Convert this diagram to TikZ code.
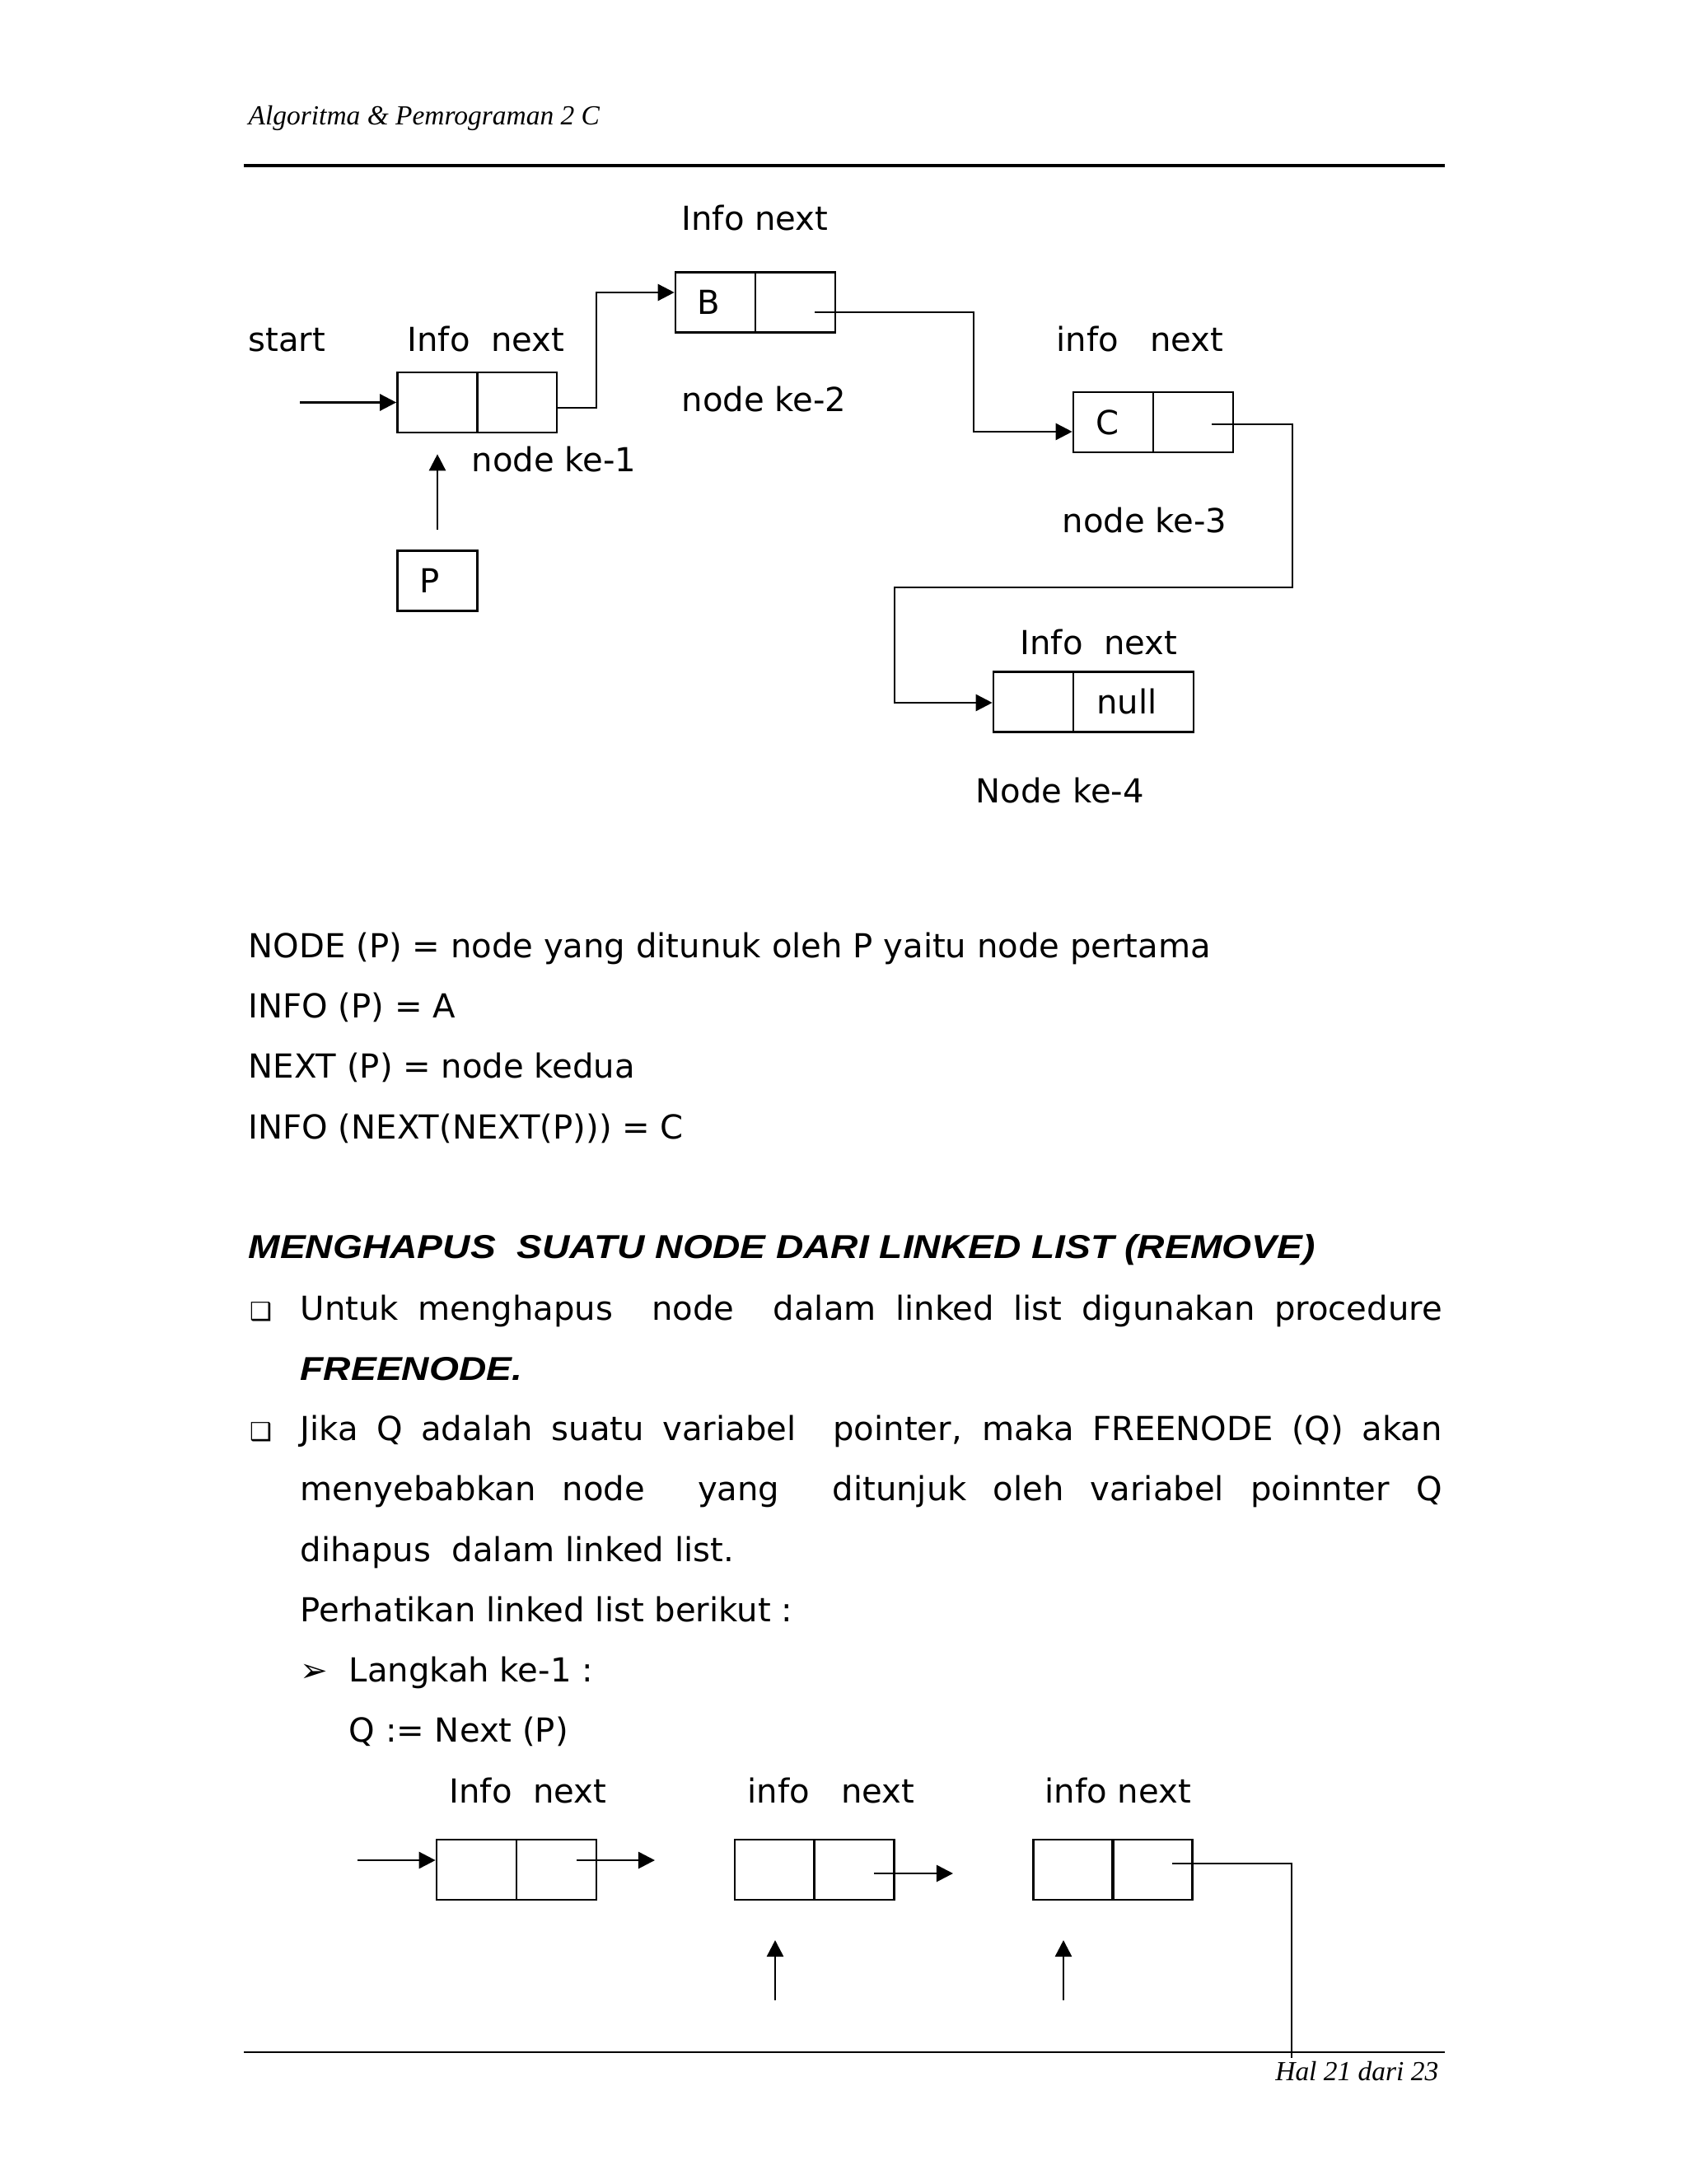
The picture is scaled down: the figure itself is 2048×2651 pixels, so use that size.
\documentclass[tikz,border=0pt]{standalone}
\usepackage{fontspec}
\usepackage{graphicx}
\setmainfont{DejaVu Sans}
\newfontfamily\timesf{Liberation Serif}
\newfontfamily\arialf{Liberation Sans}
\usetikzlibrary{arrows.meta}
\newdimen\pxu \pxu=0.29883pt
\begin{document}
\begin{tikzpicture}[x=0.29883pt,y=-0.29883pt,
  cell/.style={draw, line width=0.8pt, minimum width=97\pxu, minimum height=73\pxu, inner sep=0pt, font=\fontsize{12}{14}\selectfont},
  txt/.style={anchor=base west, inner sep=0pt, font=\fontsize{12}{14}\selectfont},
  headf/.style={anchor=base west, inner sep=0pt, font=\arialf\bfseries\itshape\fontsize{12}{14}\selectfont},
  serifit/.style={inner sep=0pt, font=\timesf\itshape\fontsize{10}{12}\selectfont},
  arr/.style={line width=0.8pt, -{Triangle[length=6pt,width=6pt]}},
  conn/.style={line width=0.8pt}]
\useasboundingbox (0,0) rectangle (2048,2651);
\fill[white] (0,0) rectangle (2048,2651);

% header and footer
\node[serifit, anchor=base west] (hd) at (301,152) {Algoritma \& Pemrograman 2 C};
\coordinate (hl1) at (296,201); \coordinate (hl2) at (1754,201);
\draw[line width=1pt] (hl1) -- (hl2);
\coordinate (fl1) at (296,2491); \coordinate (fl2) at (1754,2491);
\draw[line width=0.6pt] (fl1) -- (fl2);
\node[serifit, anchor=base east] (ft) at (1747,2525) {Hal 21 dari 23};

% ---------- diagram 1 ----------
\node[txt] (l1) at (827,280) {Info next};
\node[txt] (lstart) at (301,427) {start};
\node[txt] (l2) at (494,427) {Info\ \ next};
\node[txt] (l3) at (1282,427) {info\ \ \ next};
\node[txt] (k2) at (827,500) {node ke-2};
\node[txt] (k1) at (572,573) {node ke-1};
\node[txt] (k3) at (1289,647) {node ke-3};
\node[txt] (l4) at (1238,794) {Info\ \ next};
\node[txt] (k4) at (1184,974) {Node ke-4};

\node[cell] (n1i) at (531,488.5) {};
\node[cell] (n1n) at (627.5,488.5) {};
\node[cell] (bi) at (868.5,367) {\hspace*{-16\pxu}B};
\node[cell] (bn) at (965.5,367) {};
\node[cell] (ci) at (1351.5,512.5) {\hspace*{-14\pxu}C};
\node[cell] (cn) at (1448.5,512.5) {};
\node[cell] (di) at (1254.5,852) {};
\node[cell, minimum width=146\pxu] (dn) at (1376,852) {\hspace*{-16\pxu}null};
\node[cell] (p) at (531,705) {\hspace*{-18\pxu}P};

\coordinate (s0) at (364,488.5);
\draw[arr] (s0) -- (n1i.west);
\coordinate (j1) at (724,495);
\coordinate (j2) at (724,355);
\draw[arr] (n1n.east |- j1) -- (j1) -- (j2) -- (bi.west |- j2);
\coordinate (bs) at (989,379);
\coordinate (j3) at (1182,379);
\coordinate (j4) at (1182,524);
\draw[arr] (bs) -- (j3) -- (j4) -- (ci.west |- j4);
\coordinate (cs) at (1471,515);
\coordinate (j5) at (1569,515);
\coordinate (j6) at (1569,713);
\coordinate (j7) at (1086,713);
\coordinate (j8) at (1086,853);
\draw[arr] (cs) -- (j5) -- (j6) -- (j7) -- (j8) -- (di.west |- j8);
\draw[arr, shorten <=24\pxu, shorten >=25\pxu] (p.north) -- (n1i.south);

% ---------- text ----------
\node[txt] (t1) at (301,1162) {NODE (P) = node yang ditunuk oleh P yaitu node pertama};
\node[txt] (t2) at (301,1235) {INFO (P) = A};
\node[txt] (t3) at (301,1308) {NEXT (P) = node kedua};
\node[txt] (t4) at (301,1382) {INFO (NEXT(NEXT(P))) = C};
\node[headf] (h1) at (301,1527) {\scalebox{1.15}[1]{MENGHAPUS\ \ SUATU NODE DARI LINKED LIST (REMOVE)}};
\node[txt, font=\fontsize{9}{10}\selectfont] (b1) at (303,1602) {❑};
\node[txt] (u1) at (364,1602) {\makebox[1386\pxu][s]{Untuk menghapus\ \ node\ \ dalam linked list digunakan procedure}};
\node[headf] (u2) at (364,1675) {\scalebox{1.15}[1]{FREENODE.}};
\node[txt, font=\fontsize{9}{10}\selectfont] (b2) at (303,1748) {❑};
\node[txt] (u3) at (364,1748) {\makebox[1386\pxu][s]{Jika Q adalah suatu variabel\ \ pointer, maka FREENODE (Q) akan}};
\node[txt] (u4) at (364,1821) {\makebox[1386\pxu][s]{menyebabkan node\ \ yang\ \ ditunjuk oleh variabel poinnter Q}};
\node[txt] (u5) at (364,1895) {dihapus\ \ dalam linked list.};
\node[txt] (u6) at (364,1968) {Perhatikan linked list berikut :};
\node[txt] (ab) at (364,2041) {➢};
\node[txt] (u7) at (423,2041) {Langkah ke-1 :};
\node[txt] (u8) at (423,2114) {Q := Next (P)};

% ---------- diagram 2 ----------
\node[txt] (m1) at (545,2188) {Info\ \ next};
\node[txt] (m2) at (907,2188) {info\ \ \ next};
\node[txt] (m3) at (1268,2188) {info next};
\node[cell] (e1i) at (578.5,2269.5) {};
\node[cell] (e1n) at (675.5,2269.5) {};
\node[cell] (e2i) at (940.5,2269.5) {};
\node[cell] (e2n) at (1037,2269.5) {};
\node[cell] (e3i) at (1303,2269.5) {};
\node[cell] (e3n) at (1399,2269.5) {};

\coordinate (q0) at (434,2258);
\draw[arr] (q0) -- (e1i.west |- q0);
\coordinate (q1) at (700,2258); \coordinate (q2) at (795,2258);
\draw[arr] (q1) -- (q2);
\coordinate (q3) at (1061,2274); \coordinate (q4) at (1157,2274);
\draw[arr] (q3) -- (q4);
\coordinate (q5) at (1423,2262); \coordinate (q6) at (1568,2262); \coordinate (q7) at (1568,2498);
\draw[conn] (q5) -- (q6) -- (q7);
\coordinate (r1) at (941,2428); \coordinate (r2) at (941,2355);
\draw[arr] (r1) -- (r2);
\coordinate (r3) at (1291,2428); \coordinate (r4) at (1291,2355);
\draw[arr] (r3) -- (r4);
\end{tikzpicture}
\end{document}
